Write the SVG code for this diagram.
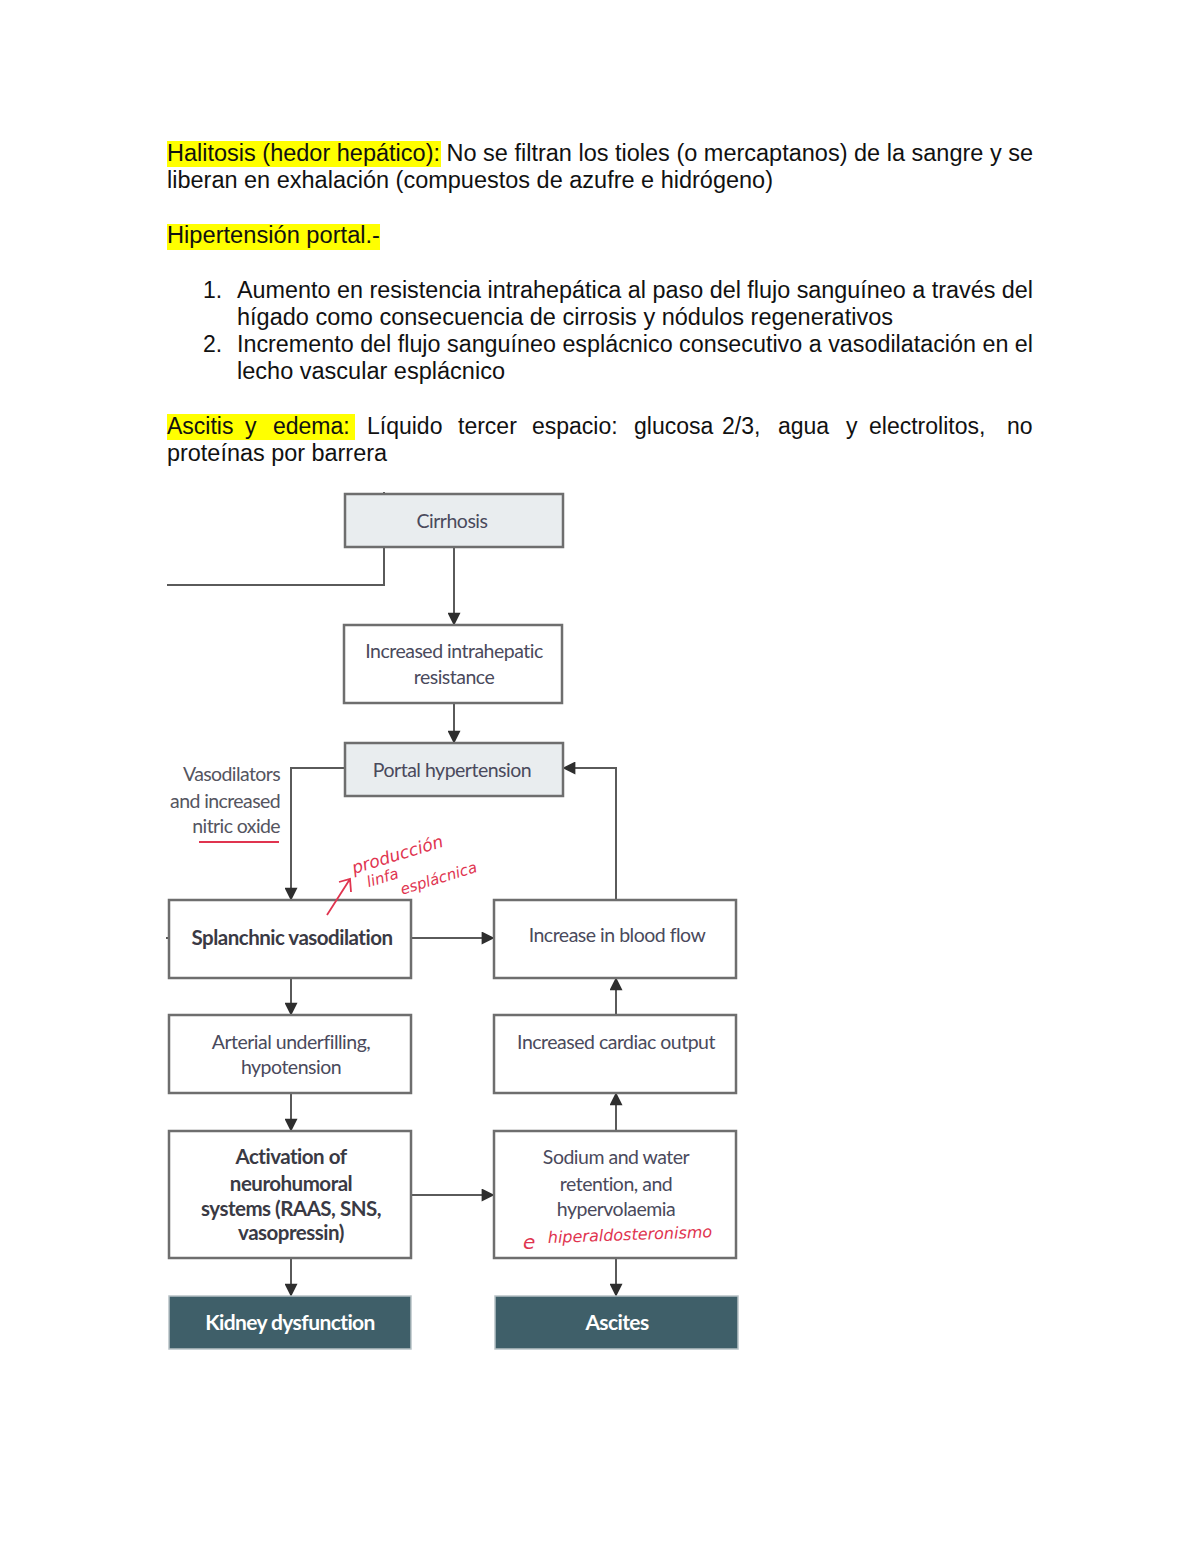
<svg xmlns="http://www.w3.org/2000/svg" width="1200" height="1553" viewBox="0 0 1200 1553">
<style>
.t{font-family:"Liberation Sans",Arial,sans-serif;font-size:23px;fill:#111}
.hl{fill:#ffff00}
.box{fill:#fff;stroke:#6e6e6e;stroke-width:2.5}
.gbox{fill:#e9edef;stroke:#6e6e6e;stroke-width:2.5}
.dbox{fill:#3f5f69;stroke:#b8c2c6;stroke-width:1.5}
.n{font-family:Lato,"Open Sans",sans-serif;font-size:19.5px;fill:#4a4a5c;text-anchor:middle;letter-spacing:-0.5px}
.nb{font-family:Lato,"Open Sans",sans-serif;font-size:20.5px;font-weight:bold;fill:#3a3a44;text-anchor:middle;letter-spacing:-0.5px}
.nw{font-family:Lato,"Open Sans",sans-serif;font-size:21px;font-weight:bold;fill:#fff;text-anchor:middle;letter-spacing:-0.6px}
.lab{font-family:Lato,"Open Sans",sans-serif;font-size:19.5px;fill:#55555f;text-anchor:end;letter-spacing:-0.6px}
.c{fill:none;stroke:#5a5a5a;stroke-width:2}
.red{font-family:"DejaVu Sans",sans-serif;font-style:italic;fill:#e0344f}
</style>
<defs>
<marker id="a" viewBox="0 0 10 10" refX="9.5" refY="5" markerWidth="14" markerHeight="13" orient="auto" markerUnits="userSpaceOnUse">
<path d="M0,0 L10,5 L0,10 z" fill="#2e2e2e"/>
</marker>
</defs>
<rect width="1200" height="1553" fill="#fff"/>

<g id="text-block">
<rect class="hl" x="167" y="141" width="274" height="26"/>
<rect class="hl" x="167" y="224" width="213" height="26"/>
<rect class="hl" x="167" y="414" width="188" height="26"/>
<text class="t" x="167" y="161" textLength="866" lengthAdjust="spacingAndGlyphs">Halitosis (hedor hepático): No se filtran los tioles (o mercaptanos) de la sangre y se</text>
<text class="t" x="167" y="188" textLength="606" lengthAdjust="spacingAndGlyphs">liberan en exhalación (compuestos de azufre e hidrógeno)</text>
<text class="t" x="167" y="243" textLength="213" lengthAdjust="spacingAndGlyphs">Hipertensión portal.-</text>
<text class="t" x="203" y="298">1.</text>
<text class="t" x="237" y="298" textLength="796" lengthAdjust="spacingAndGlyphs">Aumento en resistencia intrahepática al paso del flujo sanguíneo a través del</text>
<text class="t" x="237" y="325" textLength="656" lengthAdjust="spacingAndGlyphs">hígado como consecuencia de cirrosis y nódulos regenerativos</text>
<text class="t" x="203" y="352">2.</text>
<text class="t" x="237" y="352" textLength="796" lengthAdjust="spacingAndGlyphs">Incremento del flujo sanguíneo esplácnico consecutivo a vasodilatación en el</text>
<text class="t" x="237" y="379" textLength="268" lengthAdjust="spacingAndGlyphs">lecho vascular esplácnico</text>
<text class="t" y="434"><tspan x="167">Ascitis</tspan><tspan x="245">y</tspan><tspan x="273">edema:</tspan><tspan x="367">Líquido</tspan><tspan x="458">tercer</tspan><tspan x="532">espacio:</tspan><tspan x="634">glucosa</tspan><tspan x="722">2/3,</tspan><tspan x="778">agua</tspan><tspan x="846">y</tspan><tspan x="869">electrolitos,</tspan><tspan x="1007">no</tspan></text>
<text class="t" x="167" y="461" textLength="220" lengthAdjust="spacingAndGlyphs">proteínas por barrera</text>
</g>

<g id="connectors">
<path class="c" d="M167,585 H384 V547"/>
<line class="c" x1="384" y1="492" x2="384" y2="495"/>
<path class="c" d="M454,547 V625" marker-end="url(#a)"/>
<path class="c" d="M454,703 V743" marker-end="url(#a)"/>
<path class="c" d="M345,768 H291 V900" marker-end="url(#a)"/>
<path class="c" d="M411,938 H494" marker-end="url(#a)"/>
<path class="c" d="M616,900 V768 H563" marker-end="url(#a)"/>
<path class="c" d="M291,978 V1015" marker-end="url(#a)"/>
<path class="c" d="M616,1015 V978" marker-end="url(#a)"/>
<path class="c" d="M291,1093 V1131" marker-end="url(#a)"/>
<path class="c" d="M411,1195 H494" marker-end="url(#a)"/>
<path class="c" d="M616,1131 V1093" marker-end="url(#a)"/>
<path class="c" d="M291,1258 V1296" marker-end="url(#a)"/>
<path class="c" d="M616,1258 V1296" marker-end="url(#a)"/>
<line class="c" x1="166" y1="938" x2="169" y2="938"/>
</g>

<g id="cirrhosis">
<rect class="gbox" x="345" y="494" width="218" height="53"/>
<text class="n" x="452" y="528">Cirrhosis</text>
</g>
<g id="intrahepatic">
<rect class="box" x="344" y="625" width="218" height="78"/>
<text class="n" x="454" y="658">Increased intrahepatic</text>
<text class="n" x="454" y="684">resistance</text>
</g>
<g id="portal">
<rect class="gbox" x="345" y="743" width="218" height="53"/>
<text class="n" x="452" y="777">Portal hypertension</text>
</g>
<g id="vasodilators-label">
<text class="lab" x="280" y="781">Vasodilators</text>
<text class="lab" x="280" y="808">and increased</text>
<text class="lab" x="280" y="833">nitric oxide</text>
<line x1="199" y1="842" x2="279" y2="842" stroke="#e0344f" stroke-width="2"/>
</g>
<g id="splanchnic">
<rect class="box" x="169" y="900" width="242" height="78"/>
<text class="nb" x="292" y="945">Splanchnic vasodilation</text>
</g>
<g id="annotation-linfa">
<path d="M327,915 L350,879 M339,882 L350,879 L351,892" fill="none" stroke="#e0344f" stroke-width="1.8"/>
<g transform="rotate(-17 354 874)">
<text class="red" x="354" y="874" font-size="17">producción</text>
<text class="red" x="364" y="891" font-size="15">linfa</text>
<text class="red" x="394" y="908" font-size="15">esplácnica</text>
</g>
</g>
<g id="blood-flow">
<rect class="box" x="494" y="900" width="242" height="78"/>
<text class="n" x="617" y="942">Increase in blood flow</text>
</g>
<g id="underfilling">
<rect class="box" x="169" y="1015" width="242" height="78"/>
<text class="n" x="291" y="1049">Arterial underfilling,</text>
<text class="n" x="291" y="1074">hypotension</text>
</g>
<g id="cardiac-output">
<rect class="box" x="494" y="1015" width="242" height="78"/>
<text class="n" x="616" y="1049">Increased cardiac output</text>
</g>
<g id="neurohumoral">
<rect class="box" x="169" y="1131" width="242" height="127"/>
<text class="nb" x="291" y="1164">Activation of</text>
<text class="nb" x="291" y="1191">neurohumoral</text>
<text class="nb" x="291" y="1216">systems (RAAS, SNS,</text>
<text class="nb" x="291" y="1240">vasopressin)</text>
</g>
<g id="sodium">
<rect class="box" x="494" y="1131" width="242" height="127"/>
<text class="n" x="616" y="1164">Sodium and water</text>
<text class="n" x="616" y="1191">retention, and</text>
<text class="n" x="616" y="1216">hypervolaemia</text>
<text class="red" x="523" y="1249" font-size="20" font-style="normal">e</text>
<text class="red" x="548" y="1243" font-size="16" transform="rotate(-2 548 1243)">hiperaldosteronismo</text>
</g>
<g id="kidney">
<rect class="dbox" x="169" y="1296" width="242" height="53"/>
<text class="nw" x="290" y="1330">Kidney dysfunction</text>
</g>
<g id="ascites">
<rect class="dbox" x="495" y="1296" width="243" height="53"/>
<text class="nw" x="617" y="1330">Ascites</text>
</g>
</svg>
